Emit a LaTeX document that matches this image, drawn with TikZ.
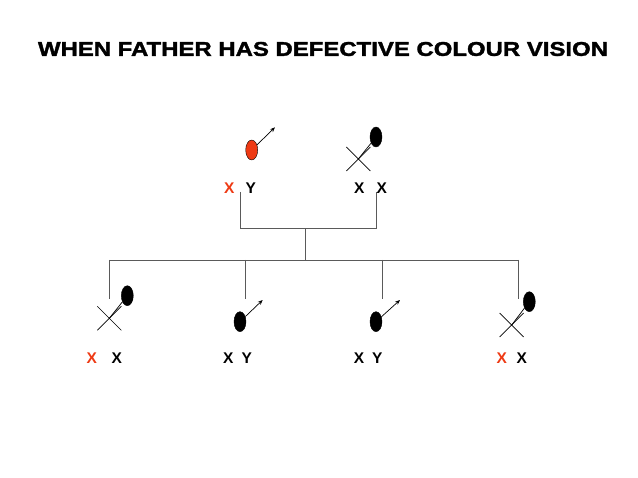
\documentclass[tikz,border=0pt]{standalone}
\usepackage{fontspec}
\setmainfont{Liberation Sans}
\newfontfamily\headfont{Liberation Sans Bold}[FakeBold=1.6]
\usetikzlibrary{shapes.geometric,arrows.meta}
\definecolor{gene}{RGB}{238,58,20}
\definecolor{wire}{RGB}{90,90,90}

\begin{document}
\begin{tikzpicture}[x=1pt,y=-1pt,
  person/.style={ellipse, draw=black, fill=black, minimum width=12pt, minimum height=20pt, inner sep=0pt},
  lab/.style={font=\bfseries\fontsize{15.5}{18}\selectfont, inner sep=0pt},
  wire/.style={draw=wire, line width=0.9pt},
  sym/.style={draw=black, line width=0.7pt}]
\useasboundingbox (0,0) rectangle (638,478);
\node [inner sep=0pt, font=\headfont\fontsize{20}{22}\selectfont] (title) at (323,49)
	{\resizebox{570pt}{\height}{WHEN FATHER HAS DEFECTIVE COLOUR VISION}};
% parents
\node [person, fill=gene] (father) at (251.7,150) {};
\coordinate (fatherto) at (275,127.3);
\draw [sym, -{Stealth[length=5pt,width=4pt]}] (father) -- (fatherto);
\node [person] (mother) at (376,137) {};
\coordinate (mothercross) at (358.3,159);
\draw [sym] (mother) -- (mothercross);
\draw [sym] (mothercross) +(-12,-12) -- +(12,12) +(-12,12) -- +(12,-12);
\node [lab, text=gene] (fx1) at (229.3,188) {X};
\node [lab] (fy) at (250.7,188) {Y};
\node [lab] (mx1) at (359.3,188) {X};
\node [lab] (mx2) at (381.7,188) {X};
% family lines
\coordinate (fatherline) at (240,192);
\coordinate (motherline) at (376,192);
\coordinate (join) at (305.7,228.3);
\coordinate (sibs) at (305.7,260);
\draw [wire] (fatherline) |- (join) -| (motherline);
\draw [wire] (join) -- (sibs);
\foreach \n/\x in {1/109.3,2/245.7,3/382,4/518}
{
	\coordinate (top\n) at (\x,260);
	\coordinate (kid\n) at (\x,299);
	\draw [wire] (top\n) -- (kid\n);
}
\draw [wire] (top1) -- (top4);
% children
\node [person] (c1) at (127.3,295.7) {};
\coordinate (c1cross) at (109.3,318.3);
\draw [sym] (c1) -- (c1cross);
\draw [sym] (c1cross) +(-12,-12) -- +(12,12) +(-12,12) -- +(12,-12);
\node [person] (c2) at (240,321.7) {};
\coordinate (c2to) at (262.7,300);
\draw [sym, -{Stealth[length=5pt,width=4pt]}] (c2) -- (c2to);
\node [person] (c3) at (376,321.7) {};
\coordinate (c3to) at (400,300);
\draw [sym, -{Stealth[length=5pt,width=4pt]}] (c3) -- (c3to);
\node [person] (c4) at (529.3,301.7) {};
\coordinate (c4cross) at (511.7,325);
\draw [sym] (c4) -- (c4cross);
\draw [sym] (c4cross) +(-12,-12) -- +(12,12) +(-12,12) -- +(12,-12);
\node [lab, text=gene] (c1x1) at (91.7,358.3) {X};
\node [lab] (c1x2) at (116.7,358.3) {X};
\node [lab] (c2x) at (228.3,358.3) {X};
\node [lab] (c2y) at (246.7,358.3) {Y};
\node [lab] (c3x) at (359,358.3) {X};
\node [lab] (c3y) at (377.3,358.3) {Y};
\node [lab, text=gene] (c4x1) at (501.7,358.3) {X};
\node [lab] (c4x2) at (521.7,358.3) {X};
\end{tikzpicture}
\end{document}
